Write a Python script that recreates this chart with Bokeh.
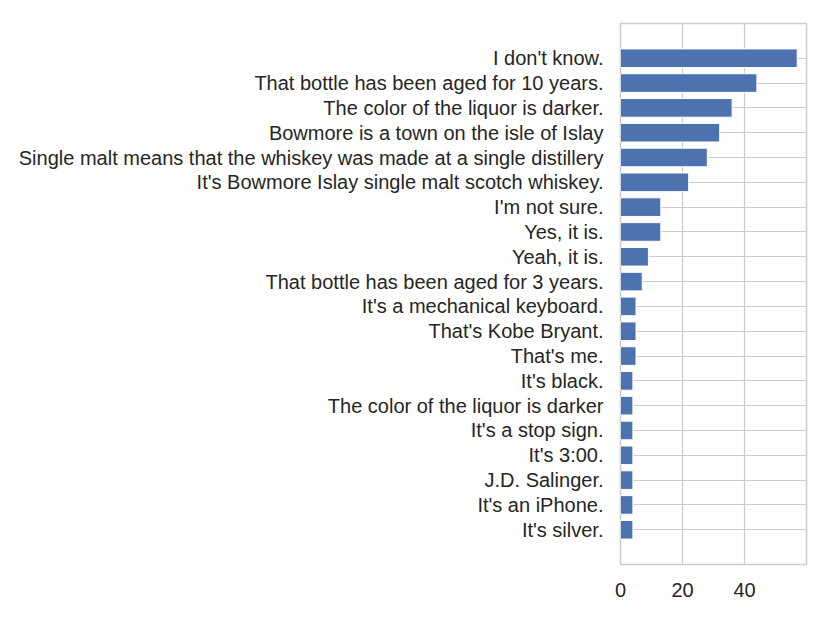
from bokeh.embed import file_html
from bokeh.models import FactorRange, Range1d, FixedTicker
from bokeh.plotting import figure
from bokeh.resources import INLINE

answers = [
    "I don't know.",
    "That bottle has been aged for 10 years.",
    "The color of the liquor is darker.",
    "Bowmore is a town on the isle of Islay",
    "Single malt means that the whiskey was made at a single distillery",
    "It's Bowmore Islay single malt scotch whiskey.",
    "I'm not sure.",
    "Yes, it is.",
    "Yeah, it is.",
    "That bottle has been aged for 3 years.",
    "It's a mechanical keyboard.",
    "That's Kobe Bryant.",
    "That's me.",
    "It's black.",
    "The color of the liquor is darker",
    "It's a stop sign.",
    "It's 3:00.",
    "J.D. Salinger.",
    "It's an iPhone.",
    "It's silver.",
]
counts = [57, 44, 36, 32, 28, 22, 13, 13, 9, 7, 5, 5, 5, 4, 4, 4, 4, 4, 4, 4]
x_ticks = [0, 20, 40]

font = "Liberation Sans"
text_color = "#262626"
grid_color = "#cccccc"

y_range = FactorRange(factors=answers[::-1], range_padding=0.9, range_padding_units="absolute")

p = figure(
    width=814,
    height=607,
    y_range=y_range,
    x_range=Range1d(0, 60),
    output_backend="svg",
    toolbar_location=None,
    min_border_left=620,
    min_border_right=8,
    min_border_top=23,
    min_border_bottom=43,
)

p.hbar(y=answers, right=counts, height=0.75, color="#4c72b0",
       line_color="white", line_width=1)

p.xaxis.ticker = FixedTicker(ticks=x_ticks)
for ax in (p.xaxis, p.yaxis):
    ax.axis_line_color = None
    ax.major_tick_line_color = None
    ax.minor_tick_line_color = None
    ax.major_label_text_font = font
    ax.major_label_text_font_size = "20px"
    ax.major_label_text_color = text_color
p.yaxis.major_label_standoff = 11
p.xaxis.major_label_standoff = 12

p.xgrid.grid_line_color = grid_color
p.ygrid.grid_line_color = grid_color
p.xgrid.grid_line_width = 1.2
p.ygrid.grid_line_width = 1.2

p.outline_line_color = grid_color
p.outline_line_width = 1.5
p.background_fill_color = "white"

open("out.html", "w").write(file_html(p, INLINE))
